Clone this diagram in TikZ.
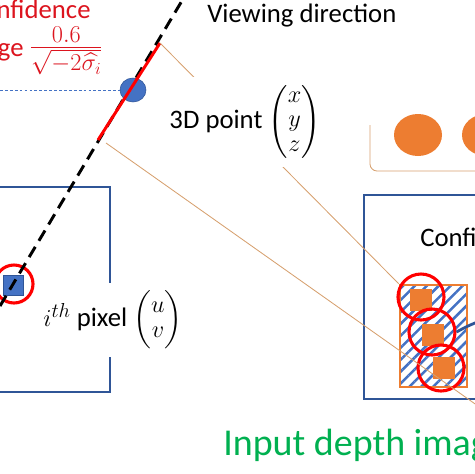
\documentclass[tikz,border=0pt]{standalone}
\usepackage{amsmath}
\usepackage{fontspec}
\setmainfont{Carlito}
\usetikzlibrary{patterns.meta, shapes.geometric}
\definecolor{boxblue}{RGB}{47,85,151}
\definecolor{fillblue}{RGB}{68,114,196}
\definecolor{ptorange}{RGB}{237,125,49}
\definecolor{tanline}{RGB}{214,160,110}
\definecolor{rangered}{RGB}{220,20,30}
\definecolor{okgreen}{RGB}{0,176,80}
\renewcommand{\arraystretch}{0.8}

\begin{document}
\begin{tikzpicture}[x=0.25mm, y=-0.25mm,
    every node/.append style={font=\fontsize{19}{22}\selectfont},
    frame/.style={draw=boxblue, line width=2pt},
    link/.style={draw=tanline, line width=0.6pt},
    ring/.style={circle, draw=red, line width=2.2pt, minimum size=11.5mm, inner sep=0pt},
    cell/.style={fill=ptorange, minimum size=5.5mm, inner sep=0pt},
    label/.style={anchor=base west, inner sep=0pt}
]
    \useasboundingbox (0,0) rectangle (474,474);
        \draw[frame] (-6,187) -| (110,392) -- (-6,392);
        \draw[frame] (480,195) -| (364,399) -- (480,399);
        \node[fill=fillblue, draw=boxblue, minimum size=5mm, inner sep=0pt] (px) at (13,285) {};
        \node[ring, minimum size=9.5mm] (pxring) at (14,284) {};
        \coordinate (rayend) at (0,306);
        \coordinate (raytop) at (186,-6);
        \draw[line width=2.1pt, dash pattern=on 8.5pt off 5pt] (rayend) -- (raytop);
        \node[ellipse, draw=boxblue, fill=fillblue, minimum width=6.5mm, minimum height=6mm, inner sep=0pt] (pt) at (133,90) {};
        \coordinate (hl) at (0,90);
        \draw[fillblue, line width=0.5pt, dash pattern=on 2pt off 1.5pt] (hl) -- (pt.west);
        \coordinate (rtop) at (160,43);
        \coordinate (rbot) at (98,140);
        \draw[red, line width=2.1pt] (rbot) -- (rtop);
        \fill[ptorange] (418,135) ellipse (24 and 21);
        \fill[ptorange] (486,135) ellipse (24 and 21);
        \draw[link, rounded corners=5] (370,125) -- (370,171) -- (480,171);
        \node[draw=ptorange, line width=1.5pt, pattern={Lines[angle=45, distance=6pt, line width=1.8pt]}, pattern color=fillblue, minimum width=16.75mm, minimum height=25.5mm, inner sep=0pt] (hatch) at (433.5,336) {};
        \node[cell] (s1) at (421,300) {};
        \node[cell] (s2) at (433,335) {};
        \node[cell] (s3) at (444,368) {};
        \node[ring] (c1) at (421,297) {};
        \node[ring] (c2) at (432,332) {};
        \node[ring] (c3) at (441,368) {};
        \coordinate (out) at (480,321);
        \draw[boxblue, line width=2pt] (c2.east) to[bend left=4] (out);
        \coordinate (rlow) at (106,143);
        \coordinate (lowend) at (478,406);
        \draw[link] (rtop) -- (hatch.north west);
        \draw[link] (rlow) -- (lowend);
        \node[label, text=rangered] (conf) at (-32,18) {Confidence};
        \node[label, text=rangered] (range) at (-38,56) {range {\fontsize{23}{26}\selectfont$\frac{0.6}{\sqrt{-2\widehat{\sigma_i}}}$}};
        \node[label] (view) at (207,22) {Viewing direction};
        \node[fill=white, inner sep=2mm] (pt3d) at (245,122) {3D point $\begin{pmatrix}x\\y\\z\end{pmatrix}$};
        \node[fill=white, inner sep=2mm] (pix) at (113,320) {$i^{th}$ pixel $\begin{pmatrix}u\\v\end{pmatrix}$};
        \node[label] (confmap) at (420,246) {Confidence};
        \node[label, text=okgreen, font=\fontsize{27}{32}\selectfont] (title) at (223,455) {Input depth image};
\end{tikzpicture}
\end{document}
